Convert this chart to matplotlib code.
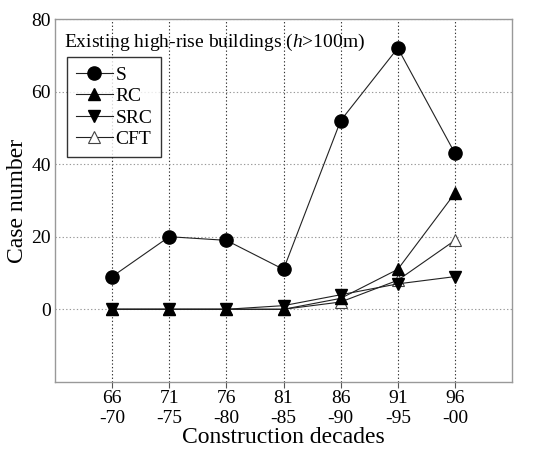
import matplotlib
matplotlib.use("Agg")
import matplotlib.pyplot as plt

plt.rcParams["font.family"] = ["Liberation Serif", "DejaVu Serif"]
plt.rcParams["mathtext.fontset"] = "custom"
plt.rcParams["mathtext.it"] = "Liberation Serif:italic"
plt.rcParams["mathtext.rm"] = "Liberation Serif"

periods = ["66\n-70", "71\n-75", "76\n-80", "81\n-85", "86\n-90", "91\n-95", "96\n-00"]
s_vals = [9, 20, 19, 11, 52, 72, 43]
rc_vals = [0, 0, 0, 0, 3, 11, 32]
src_vals = [0, 0, 0, 1, 4, 7, 9]
cft_vals = [0, 0, 0, 0, 2, 8, 19]

x = list(range(1, len(periods) + 1))

fig = plt.figure(figsize=(5.5, 4.54), dpi=100)
ax = fig.add_axes([0.1, 0.159, 0.831, 0.799])

ax.plot(x, s_vals, "-o", color="#222222", lw=0.8, ms=9.5, mfc="black", mec="black", label="S", zorder=5)
ax.plot(x, rc_vals, "-^", color="#222222", lw=0.8, ms=9, mfc="black", mec="black", label="RC", zorder=4)
ax.plot(x, src_vals, "-v", color="#222222", lw=0.8, ms=9, mfc="black", mec="black", label="SRC", zorder=4)
ax.plot(x, cft_vals, "-^", color="#222222", lw=0.8, ms=9, mfc="white", mec="#444444", mew=0.8, label="CFT", zorder=3)

ax.set_xlim(0, 8)
ax.set_ylim(-20, 80)
ax.set_xticks(x)
ax.set_xticklabels(periods, fontsize=14, linespacing=1.25)
ax.set_yticks([0, 20, 40, 60, 80])
ax.tick_params(axis="y", labelsize=14, length=0, pad=3)
ax.tick_params(axis="x", direction="out", length=4, color="#555555", pad=2)

ax.xaxis.grid(True, linestyle=(0, (1.2, 2)), color="#333333", lw=0.8)
ax.yaxis.grid(True, linestyle=(0, (1.2, 2)), color="#999999", lw=0.8)
for sp in ax.spines.values():
    sp.set_color("#999999")
    sp.set_linewidth(1.0)

ax.set_xlabel("Construction decades", fontsize=17, labelpad=0)
ax.set_ylabel("Case number", fontsize=17, labelpad=2)

ax.text(0.02, 0.935, r"Existing high-rise buildings ($\mathit{h}$>100m)", transform=ax.transAxes,
        fontsize=14, va="center", ha="left")

leg = ax.legend(loc="upper left", bbox_to_anchor=(0.026, 0.895), fontsize=14, frameon=True,
                fancybox=False, edgecolor="black", handlelength=1.9, handletextpad=0.15,
                labelspacing=0.2, borderpad=0.45, borderaxespad=0)
leg.get_frame().set_linewidth(1.0)

fig.savefig("out.png", dpi=100)
